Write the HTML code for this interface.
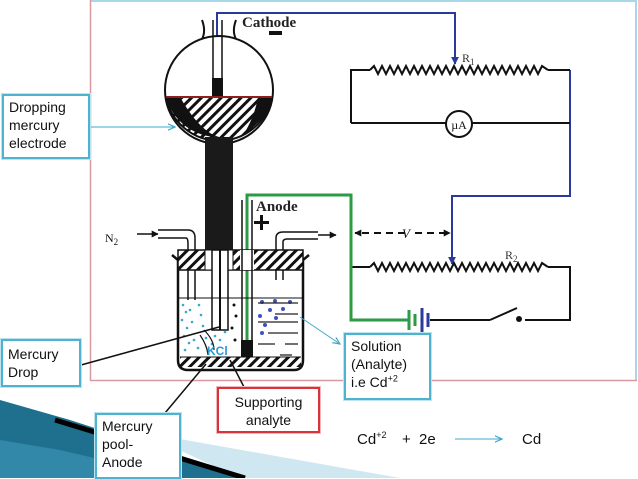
<!DOCTYPE html>
<html><head><meta charset="utf-8"><style>
html,body{margin:0;padding:0;background:#fff;}
body{width:638px;height:478px;overflow:hidden;position:relative;}
svg{position:absolute;left:0;top:0;}
.box{position:absolute;background:#fff;font-family:"Liberation Sans",sans-serif;font-size:14px;line-height:18px;color:#111;padding:2px 5px;box-sizing:border-box;}
.bl{border:2px solid #4fb3cf;box-shadow:0 0 0 1px #bfe3ee;}
.rd{border:2px solid #d8323c;box-shadow:0 0 0 1px #f1b8bc;text-align:center;}
</style></head><body>
<svg width="638" height="478" viewBox="0 0 638 478" xmlns="http://www.w3.org/2000/svg" font-family="Liberation Serif, serif">
<defs>
<pattern id="h" width="7" height="7" patternUnits="userSpaceOnUse" patternTransform="rotate(45)">
<rect width="7" height="7" fill="#fff"/><rect width="3" height="7" fill="#111"/></pattern>
<marker id="ab" viewBox="0 0 10 10" refX="9" refY="5" markerUnits="userSpaceOnUse" markerWidth="8" markerHeight="8" orient="auto"><path d="M0,0 L10,5 L0,10 z" fill="#2b3a9a"/></marker>
<marker id="ak" viewBox="0 0 10 10" refX="9" refY="5" markerUnits="userSpaceOnUse" markerWidth="8" markerHeight="7" orient="auto"><path d="M0,0 L10,5 L0,10 z" fill="#111"/></marker>
<marker id="ac" viewBox="0 0 10 10" refX="9" refY="5" markerUnits="userSpaceOnUse" markerWidth="8" markerHeight="8" orient="auto"><path d="M0,1 L9,5 L0,9" fill="none" stroke="#3fa8cc" stroke-width="1.5"/></marker>
</defs>
<!-- bottom decoration -->
<polygon points="0,400 70,420 250,478 0,478" fill="#1f6f8e"/>
<polygon points="0,440 60,450 180,478 0,478" fill="#3a93b3" opacity="0.7"/>
<polygon points="140,432 400,478 240,478" fill="#cfe7f0"/>
<polyline points="55,420 245,478" stroke="#000" stroke-width="5" fill="none"/>
<!-- frame -->
<rect x="90" y="0" width="546" height="380" fill="#fff" stroke="none"/>
<line x1="90" y1="1" x2="636" y2="1" stroke="#a8d8e8" stroke-width="2"/>
<line x1="636" y1="0" x2="636" y2="381" stroke="#a8d8e8" stroke-width="2"/>
<line x1="90.5" y1="0" x2="90.5" y2="381" stroke="#d89aa0" stroke-width="1.5"/>
<line x1="90" y1="380.5" x2="637" y2="380.5" stroke="#d89aa0" stroke-width="1.5"/>
<!-- blue wires -->
<polyline points="217,60 217,13 455,13 455,64" fill="none" stroke="#2b3a9a" stroke-width="2" marker-end="url(#ab)"/>
<polyline points="570,70 570,196 452,196 452,264" fill="none" stroke="#2b3a9a" stroke-width="2" marker-end="url(#ab)"/>
<!-- R1 -->
<g stroke="#111" stroke-width="2" fill="none">
<polyline points="351,123 351,70 370,70"/>
<polyline points="548,70 570,70"/>
<polyline id="zz" points="370,70 374,66 378,74 382,66 386,74 390,66 394,74 398,66 402,74 406,66 410,74 414,66 418,74 422,66 426,74 430,66 434,74 438,66 442,74 446,66 450,74 454,66 458,74 462,66 466,74 470,66 474,74 478,66 482,74 486,66 490,74 494,66 498,74 502,66 506,74 510,66 514,74 518,66 522,74 526,66 530,74 534,66 538,74 542,66 548,70"/>
<line x1="351" y1="123" x2="446" y2="123"/>
<line x1="472" y1="123" x2="570" y2="123"/>
<circle cx="459" cy="124" r="13"/>
<use href="#zz" y="197"/>
<polyline points="351,267 370,267"/>
<polyline points="548,267 570,267 570,320 525,320"/>
<line x1="490" y1="320" x2="517" y2="308"/>
<line x1="430" y1="320" x2="490" y2="320"/>
<line x1="405" y1="233" x2="355" y2="233" stroke-dasharray="7,5" marker-end="url(#ak)"/>
<line x1="415" y1="233" x2="450" y2="233" stroke-dasharray="7,5" marker-end="url(#ak)"/>
</g>
<circle cx="519" cy="319" r="3" fill="#111"/>
<text x="459" y="129" font-size="12" text-anchor="middle" fill="#111">µA</text>
<text x="462" y="62" font-size="12" fill="#333">R<tspan font-size="9" dy="3">1</tspan></text>
<text x="505" y="259" font-size="12" fill="#333">R<tspan font-size="9" dy="3">2</tspan></text>
<text x="402" y="238" font-size="13" font-style="italic" fill="#111">V</text>
<!-- battery -->
<g stroke-width="3">
<line x1="409" y1="310" x2="409" y2="330" stroke="#2d9a44"/>
<line x1="415" y1="314" x2="415" y2="326" stroke="#2d9a44"/>
<line x1="422" y1="308" x2="422" y2="332" stroke="#2b3a9a"/>
<line x1="428" y1="313" x2="428" y2="327" stroke="#2b3a9a"/>
</g>
<!-- green wire -->
<polyline points="247,340 247,195 351,195 351,320 408,320" fill="none" stroke="#2d9a44" stroke-width="3"/>
<line x1="242" y1="200" x2="242" y2="340" stroke="#111" stroke-width="1.5"/>
<line x1="252" y1="200" x2="252" y2="340" stroke="#111" stroke-width="1.5"/>
<rect x="241" y="340" width="12" height="21" fill="#111"/>
<!-- labels -->
<text x="242" y="27" font-size="15" font-weight="bold" fill="#222">Cathode</text>
<rect x="269" y="31" width="13" height="4" fill="#111"/>
<text x="256" y="211" font-size="15" font-weight="bold" fill="#222">Anode</text>
<rect x="254" y="221" width="15" height="3" fill="#111"/>
<rect x="260" y="215" width="3" height="15" fill="#111"/>
<text x="105" y="242" font-size="12" fill="#111">N<tspan font-size="9" dy="3">2</tspan></text>
<!-- flask -->
<g stroke="#111" stroke-width="2" fill="none">
<path d="M202,20 C205,28 205,36 200,42"/>
<path d="M236,20 C233,28 233,36 238,42"/>
<circle cx="219" cy="90" r="54" fill="#fff"/>
</g>
<path d="M166,97 L272,97 A54,54 0 0 1 166,97 z" fill="url(#h)" stroke="#111" stroke-width="2"/>
<path d="M166,97 L180,97 Q200,132 219,137 A54,54 0 0 1 166,97z" fill="#111"/>
<path d="M258,97 L272,97 A54,54 0 0 1 245,132 Q255,115 258,97z" fill="#111"/>
<line x1="166" y1="97" x2="272" y2="97" stroke="#b22" stroke-width="1.5"/>
<line x1="213" y1="20" x2="213" y2="80" stroke="#111" stroke-width="1.5"/>
<line x1="222" y1="20" x2="222" y2="80" stroke="#111" stroke-width="1.5"/>
<rect x="212" y="78" width="11" height="18" fill="#111"/>
<rect x="205" y="137" width="28" height="114" fill="#1a1a1a"/>
<!-- N2 tube -->
<g stroke="#111" stroke-width="1.5" fill="none">
<line x1="137" y1="234" x2="158" y2="234" marker-end="url(#ak)"/>
<path d="M158,230 L188,230 Q195,230 195,238 L195,300"/>
<path d="M158,238 L186,238 Q188,238 188,244 L188,300"/>
<path d="M276,280 L276,238 Q276,232 283,232 L318,232"/>
<path d="M283,280 L283,242 Q283,239 287,239 L318,239"/>
<line x1="318" y1="235" x2="336" y2="235" marker-end="url(#ak)"/>
</g>
<!-- beaker -->
<path d="M172,255 L178,260 L178,360 Q178,370 188,370 L294,370 Q303,370 303,360 L303,260 L309,255" fill="none" stroke="#111" stroke-width="2.5"/>
<rect x="178" y="250" width="125" height="20" fill="url(#h)" stroke="#111" stroke-width="1.5"/>
<rect x="205" y="250" width="28" height="20" fill="#fff" stroke="#111" stroke-width="1"/>
<rect x="212" y="250" width="16" height="80" fill="#fff" stroke="#111" stroke-width="1.5"/>
<line x1="220" y1="250" x2="220" y2="330" stroke="#111" stroke-width="2"/>
<rect x="240" y="250" width="14" height="20" fill="#fff"/>
<line x1="242" y1="250" x2="242" y2="270" stroke="#111" stroke-width="1.5"/>
<line x1="252" y1="250" x2="252" y2="270" stroke="#111" stroke-width="1.5"/>
<line x1="178" y1="298" x2="303" y2="298" stroke="#111" stroke-width="1"/>
<rect x="180" y="357" width="121" height="10" fill="url(#h)"/>
<line x1="180" y1="357" x2="301" y2="357" stroke="#111"/>
<!-- dots left -->
<g fill="#3aa6cf">
<circle cx="183" cy="305" r="1.3"/><circle cx="186" cy="312" r="1.3"/><circle cx="182" cy="320" r="1.3"/><circle cx="187" cy="328" r="1.3"/><circle cx="184" cy="336" r="1.3"/><circle cx="189" cy="343" r="1.3"/><circle cx="185" cy="350" r="1.3"/><circle cx="190" cy="310" r="1.3"/><circle cx="192" cy="322" r="1.3"/><circle cx="194" cy="340" r="1.3"/><circle cx="199" cy="305" r="1.3"/><circle cx="201" cy="315" r="1.3"/><circle cx="203" cy="326" r="1.3"/><circle cx="198" cy="348" r="1.3"/><circle cx="206" cy="338" r="1.3"/><circle cx="215" cy="336" r="1.3"/><circle cx="220" cy="340" r="1.3"/><circle cx="225" cy="332" r="1.3"/><circle cx="212" cy="344" r="1.3"/>
</g>
<path d="M200,335 Q207,345 208,355 M204,330 Q214,340 214,350" stroke="#111" fill="none" stroke-width="1.2"/>
<g fill="#111"><circle cx="234" cy="305" r="1.5"/><circle cx="236" cy="316" r="1.5"/><circle cx="232" cy="328" r="1.5"/><circle cx="235" cy="340" r="1.5"/></g>
<text x="207" y="355" font-family="Liberation Sans, sans-serif" font-size="12" font-weight="bold" fill="#2a9ad6">KCl</text>
<!-- right dots -->
<g fill="#4050c0">
<circle cx="262" cy="302" r="2"/><circle cx="275" cy="301" r="2"/><circle cx="290" cy="302" r="2"/><circle cx="270" cy="310" r="2"/><circle cx="283" cy="309" r="2"/><circle cx="260" cy="316" r="2"/><circle cx="276" cy="318" r="2"/><circle cx="265" cy="325" r="2"/><circle cx="262" cy="333" r="2"/>
</g>
<g stroke="#222" stroke-width="1.3">
<line x1="258" y1="303" x2="298" y2="303"/><line x1="275" y1="314" x2="298" y2="314"/><line x1="258" y1="322" x2="298" y2="322"/><line x1="268" y1="333" x2="298" y2="333"/><line x1="258" y1="344" x2="275" y2="344"/><line x1="285" y1="344" x2="298" y2="344"/><line x1="280" y1="355" x2="292" y2="355"/>
</g>
<!-- leader lines -->
<line x1="90" y1="127" x2="175" y2="127" stroke="#3fa8cc" stroke-width="1" marker-end="url(#ac)"/>
<line x1="300" y1="317" x2="340" y2="344" stroke="#3fa8cc" stroke-width="1" marker-end="url(#ac)"/>
<line x1="81" y1="365" x2="219" y2="327" stroke="#111" stroke-width="1.5"/>
<line x1="165" y1="413" x2="206" y2="364" stroke="#111" stroke-width="1.5"/>
<line x1="244" y1="387" x2="230" y2="360" stroke="#111" stroke-width="1.5"/>
<!-- equation -->
<g font-family="Liberation Sans, sans-serif" font-size="15" fill="#111">
<text x="357" y="444">Cd<tspan font-size="9" dy="-6">+2</tspan></text>
<text x="402" y="444">+</text>
<text x="419" y="444">2e</text>
<text x="522" y="444">Cd</text>
</g>
<line x1="455" y1="439" x2="502" y2="439" stroke="#3fa8cc" stroke-width="1" marker-end="url(#ac)"/>
</svg>
<div class="box bl" style="left:2px;top:94px;width:88px;height:65px;">Dropping<br>mercury<br>electrode</div>
<div class="box bl" style="left:1px;top:339px;width:80px;height:48px;padding-top:4px;">Mercury<br>Drop</div>
<div class="box bl" style="left:95px;top:413px;width:86px;height:66px;">Mercury<br>pool-<br>Anode</div>
<div class="box rd" style="left:217px;top:387px;width:103px;height:46px;padding-top:4px;">Supporting<br>analyte</div>
<div class="box bl" style="left:344px;top:333px;width:87px;height:67px;">Solution<br>(Analyte)<br>i.e Cd<sup style="font-size:9px;line-height:0">+2</sup></div>
</body></html>
